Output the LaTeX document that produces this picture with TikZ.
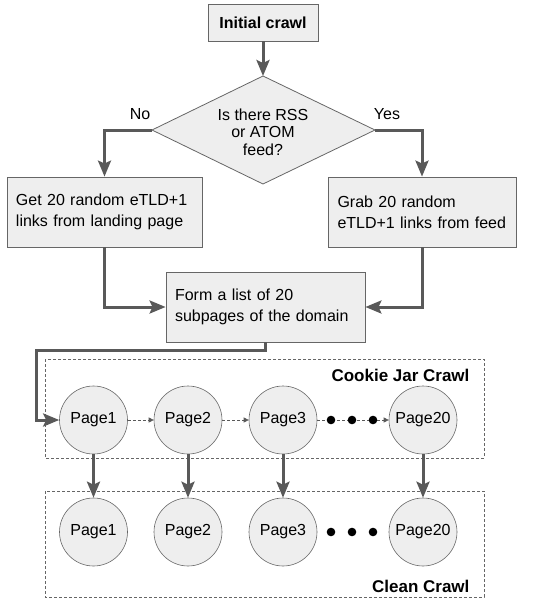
\documentclass[tikz,border=0pt]{standalone}
\usepackage{fontspec}
\setmainfont{Liberation Sans}
\usepackage{tikz}
\usetikzlibrary{arrows.meta}
\definecolor{boxfill}{HTML}{EEEEEE}
\definecolor{boxline}{HTML}{666666}
\definecolor{flowline}{HTML}{595959}

\begin{document}
\begin{tikzpicture} [x=1pt,y=-1pt,
  box/.style={draw=boxline,fill=boxfill,line width=0.8pt,inner sep=0pt,font=\fontsize{16}{21}\selectfont},
  page/.style={circle,draw=boxline,fill=boxfill,line width=0.6pt,minimum size=68pt,inner sep=0pt,font=\fontsize{16}{18}\selectfont},
  flow/.style={draw=flowline,line width=3pt,-{Stealth[length=16pt,width=13pt,inset=3pt]}},
  hop/.style={draw=flowline,line width=0.6pt,dash pattern=on 3pt off 2pt,-{Triangle[length=5pt,width=5pt]}},
  crawl/.style={draw=boxline,line width=0.6pt,dash pattern=on 3pt off 2pt}]
\useasboundingbox (0,0) rectangle (547,606);
% decision part
\node [box,minimum width=110pt,minimum height=37pt,font=\fontsize{16}{18}\selectfont\bfseries] (init) at (263,22.5) {Initial crawl};
\coordinate (askT) at (263,76);
\coordinate (askL) at (152,130);
\coordinate (askR) at (375,130);
\coordinate (askB) at (263,184);
\draw [box] (askT)--(askR)--(askB)--(askL)--cycle;
\node [align=center,font=\fontsize{16}{17.5}\selectfont] (ask) at (263,132) {Is there RSS\\or ATOM\\feed?};
\node [font=\fontsize{16}{18}\selectfont] (no) at (140,114) {No};
\node [font=\fontsize{16}{18}\selectfont] (yes) at (387,114) {Yes};
\node [box,minimum width=195pt,minimum height=70pt,text width=177pt,align=left] (get) at (104.5,212) {Get 20 random eTLD+1\\links from landing page};
\node [box,minimum width=188pt,minimum height=70pt,text width=169pt,align=left] (grab) at (422,212) {Grab 20 random\\eTLD+1 links from feed};
\node [box,minimum width=199pt,minimum height=70pt,text width=181pt,align=left] (form) at (265.5,307) {Form a list of 20\\subpages of the domain};
\draw [flow] (init.south)--(askT);
\draw [flow] (askL) -| (get.north);
\draw [flow] (askR) -| (grab.north);
\draw [flow] (get.south) |- (form.west);
\draw [flow] (grab.south) |- (form.east);
% cookie jar crawl
\draw [crawl] (45,359) rectangle (484,458);
\node [anchor=base east,font=\fontsize{17}{18}\selectfont\bfseries] (jar) at (473,381) {Cookie Jar Crawl};
\node [page] (a1) at (93.5,420) {Page1};
\node [page] (a2) at (188,420) {Page2};
\node [page] (a3) at (283,420) {Page3};
\node [page] (a20) at (423,420) {Page20};
\draw [hop] (a1)--(a2);
\draw [hop] (a2)--(a3);
\draw [hop] (a3)--(a20);
\fill (331,420) circle (4.3pt);
\fill (352,420) circle (4.3pt);
\fill (373,420) circle (4.3pt);
\coordinate (bend) at (36,350);
\draw [flow] (form.south) |- (bend) |- (a1.west);
% clean crawl
\draw [crawl] (45,491) rectangle (484,597);
\node [anchor=base east,font=\fontsize{17}{18}\selectfont\bfseries] (clean) at (473,592) {Clean Crawl};
\node [page] (b1) at (93.5,532) {Page1};
\node [page] (b2) at (188,532) {Page2};
\node [page] (b3) at (283,532) {Page3};
\node [page] (b20) at (423,532) {Page20};
\fill (331,532) circle (4.3pt);
\fill (352,532) circle (4.3pt);
\fill (373,532) circle (4.3pt);
\draw [flow] (a1)--(b1);
\draw [flow] (a2)--(b2);
\draw [flow] (a3)--(b3);
\draw [flow] (a20)--(b20);

\end{tikzpicture}
\end{document}
